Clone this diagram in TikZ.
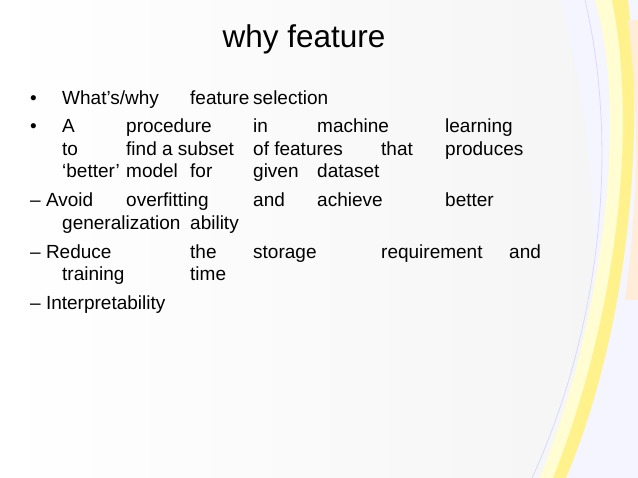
\documentclass[tikz,border=0pt]{standalone}
\usepackage{fontspec}
\setmainfont{Liberation Sans}
\begin{document}
\begin{tikzpicture}[x=1pt,y=-1pt,
  t/.style={anchor=base west,inner sep=0pt,font=\fontsize{19}{22}\selectfont},
  ttl/.style={anchor=base,inner sep=0pt,font=\fontsize{31.5}{36}\selectfont}]
\useasboundingbox (0,0) rectangle (638,478);
\shade[left color=white,right color=blue!4!gray!8] (0,0) rectangle (638,478);
% decorative swooshes
\fill[blue!4] (560,0) .. controls (600,150) and (610,330) .. (560,478) -- (638,478) -- (638,0) -- cycle;
\fill[yellow!18] (595,0) .. controls (630,120) and (600,330) .. (540,478) -- (560,478) .. controls (620,330) and (638,150) .. (625,0) -- cycle;
\fill[orange!25!yellow!45] (612,0) .. controls (640,140) and (612,330) .. (553,478) -- (566,478) .. controls (628,330) and (645,140) .. (628,0) -- cycle;
\draw[blue!15,line width=0.8pt] (585,0) .. controls (620,150) and (600,330) .. (532,478);
\fill[orange!15] (628,20) .. controls (640,120) and (638,200) .. (625,300) -- (638,300) -- (638,20) -- cycle;
\node[ttl] (title) at (304,48) {why feature};
\node[t] (b1) at (30,105) {•};
\node[t] (b2) at (30,133) {•};
\node[t] (a1) at (62,105) {What’s/why};
\node[t] (a2) at (190,105) {feature};
\node[t] (a3) at (253,105) {selection};
\node[t] at (62,133) {A};
\node[t] at (126,133) {procedure};
\node[t] at (253,133) {in};
\node[t] at (317,133) {machine};
\node[t] at (445,133) {learning};
\node[t] at (62,156) {to};
\node[t] at (126,156) {find a subset};
\node[t] at (253,156) {of features};
\node[t] at (381,156) {that};
\node[t] at (445,156) {produces};
\node[t] at (62,178) {‘better’};
\node[t] at (126,178) {model};
\node[t] at (190,178) {for};
\node[t] at (253,178) {given};
\node[t] at (317,178) {dataset};
\node[t] at (30,207) {– Avoid};
\node[t] at (126,207) {overfitting};
\node[t] at (253,207) {and};
\node[t] at (317,207) {achieve};
\node[t] at (445,207) {better};
\node[t] at (62,230) {generalization};
\node[t] at (190,230) {ability};
\node[t] at (30,259) {– Reduce};
\node[t] at (190,259) {the};
\node[t] at (253,259) {storage};
\node[t] at (381,259) {requirement};
\node[t] at (509,259) {and};
\node[t] at (62,281) {training};
\node[t] at (190,281) {time};
\node[t] at (30,310) {– Interpretability};
\end{tikzpicture}
\end{document}
